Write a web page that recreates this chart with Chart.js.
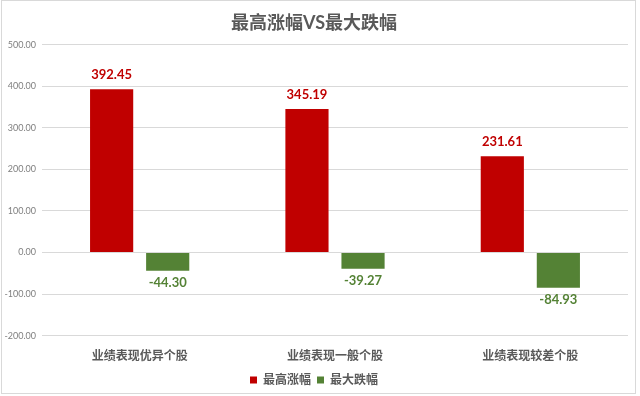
<!DOCTYPE html>
<html>
<head>
<meta charset="utf-8">
<script src="https://cdn.jsdelivr.net/npm/chart.js@4.4.1/dist/chart.umd.min.js"></script>
<style>
  html, body { margin: 0; padding: 0; background: #fff; }
  #wrap { width: 640px; height: 396px; }
</style>
</head>
<body>
<div id="wrap"><canvas id="chart" width="640" height="396"></canvas></div>
<script>
// chart data
const categories = ['业绩表现优异个股', '业绩表现一般个股', '业绩表现较差个股'];
const maxRise = [392.45, 345.19, 231.61];
const maxFall = [-44.30, -39.27, -84.93];
const seriesNames = ['最高涨幅', '最大跌幅'];
const yMin = -200, yMax = 500, yStep = 100;

const RED = '#C00000';
const GREEN = '#548235';
const FONT = 'Lato, "Noto Sans CJK SC", sans-serif';

// value labels on top / below each bar
const valueLabels = {
  id: 'valueLabels',
  afterDatasetsDraw(chart) {
    const ctx = chart.ctx;
    ctx.save();
    ctx.font = 'bold 13px ' + FONT;
    ctx.textAlign = 'center';
    ctx.textBaseline = 'middle';
    chart.data.datasets.forEach((ds, i) => {
      const meta = chart.getDatasetMeta(i);
      ctx.fillStyle = ds.backgroundColor;
      meta.data.forEach((bar, j) => {
        const v = ds.data[j];
        const y = v >= 0 ? bar.y - 14 : bar.y + 12;
        ctx.fillText(v.toFixed(2), bar.x, y);
      });
    });
    ctx.restore();
  }
};

// light frame round the whole picture
const frame = {
  id: 'frame',
  beforeDraw(chart) {
    const ctx = chart.ctx;
    ctx.save();
    ctx.fillStyle = '#fff';
    ctx.fillRect(0, 0, chart.width, chart.height);
    ctx.strokeStyle = '#d9d9d9';
    ctx.lineWidth = 1;
    ctx.strokeRect(1.5, 0.5, 634, 393);
    ctx.restore();
  }
};

new Chart(document.getElementById('chart'), {
  type: 'bar',
  data: {
    labels: categories,
    datasets: [
      { label: seriesNames[0], data: maxRise, backgroundColor: RED },
      { label: seriesNames[1], data: maxFall, backgroundColor: GREEN }
    ]
  },
  options: {
    responsive: false,
    animation: false,
    categoryPercentage: 0.574,
    barPercentage: 0.77,
    layout: { padding: { left: 0, right: 12, top: 0, bottom: 0 } },
    plugins: {
      title: {
        display: true,
        text: '最高涨幅VS最大跌幅',
        color: '#595959',
        font: { family: FONT, size: 18, weight: 'bold' },
        padding: { top: 12, bottom: 11 }
      },
      legend: {
        position: 'bottom',
        labels: {
          boxWidth: 7,
          boxHeight: 7,
          color: '#595959',
          font: { family: FONT, size: 12, weight: 'bold' },
          padding: 6
        }
      },
      tooltip: { enabled: false }
    },
    scales: {
      x: {
        grid: { display: false },
        border: { display: false },
        ticks: {
          color: '#595959',
          font: { family: FONT, size: 12, weight: 'bold' },
          padding: 5
        }
      },
      y: {
        min: yMin,
        max: yMax,
        afterFit(scale) { scale.width = 42; },
        grid: { color: '#d9d9d9', drawTicks: false },
        border: { display: false },
        ticks: {
          stepSize: yStep,
          color: '#7f7f7f',
          font: { family: FONT, size: 9 },
          padding: 6,
          callback: v => v.toFixed(2)
        }
      }
    }
  },
  plugins: [frame, valueLabels]
});
</script>
</body>
</html>
